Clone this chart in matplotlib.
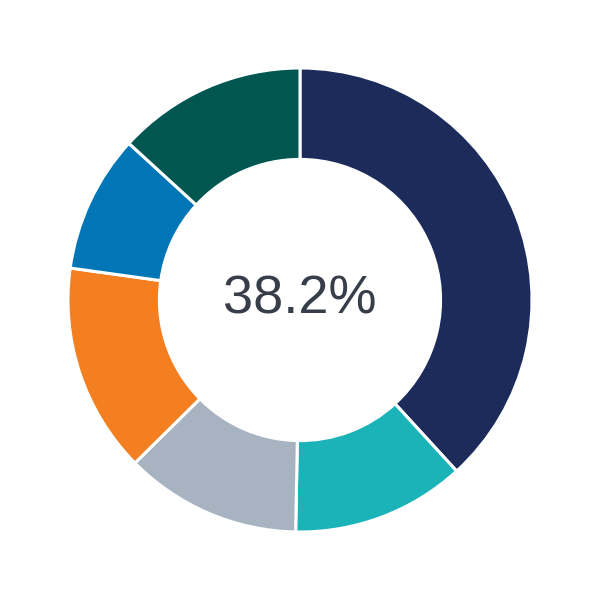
import matplotlib
matplotlib.use("Agg")
import matplotlib.pyplot as plt

labels = ["A", "B", "C", "D", "E", "F"]
values = [38.2, 12.1, 12.3, 14.6, 9.6, 13.2]
colors = ["#1c2b5a", "#1ab3b8", "#a8b3c1", "#f37f21", "#0076b6", "#005752"]
center_label = "38.2%"

fig = plt.figure(figsize=(6, 6), dpi=100)
ax = fig.add_axes([0, 0, 1, 1])
R = 1.0
ax.pie(values, colors=colors, startangle=90, counterclock=False, radius=R,
       wedgeprops=dict(width=0.394, edgecolor="white", linewidth=2.2))
lim = 300 / 232
ax.set_xlim(-lim, lim)
ax.set_ylim(-lim, lim)
ax.set_aspect("equal")
ax.axis("off")
ax.text(0, 0.004, center_label, ha="center", va="center", fontsize=39,
        color="#373d49", family=["Liberation Sans", "DejaVu Sans"])
fig.savefig("out.png", dpi=100, facecolor="white")
